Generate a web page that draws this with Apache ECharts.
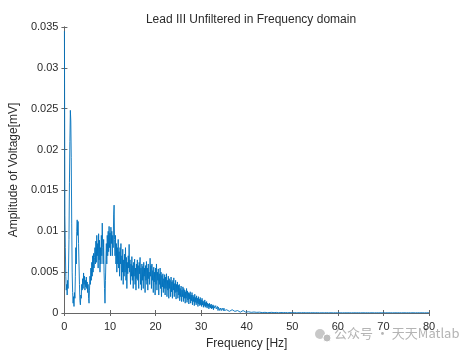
<!DOCTYPE html>
<html>
<head>
<meta charset="utf-8">
<script src="https://cdn.jsdelivr.net/npm/echarts@6/dist/echarts.min.js"></script>
<style>html,body{margin:0;padding:0;background:#fff;}#c{width:474px;height:355px;}</style>
</head>
<body>
<div id="c"></div>
<script>
// Amplitude (mV), 0 .. 35.9 Hz every 0.1 Hz (one line = 1 Hz)
var lowStart = 0, lowStep = 0.1;
var ampLow = [
0.0345,0.0119,0.0080,0.0045,0.0028,0.0035,0.0022,0.0040,0.0030,0.0055,
0.0090,0.0160,0.0210,0.0248,0.0235,0.0190,0.0110,0.0050,0.0025,0.0012,
0.0020,0.0008,0.0025,0.0018,0.0045,0.0080,0.0060,0.0100,0.0114,0.0095,
0.0112,0.0085,0.0060,0.0035,0.0015,0.0010,0.0022,0.0018,0.0035,0.0028,
0.0042,0.0030,0.0049,0.0035,0.0045,0.0028,0.0040,0.0032,0.0044,0.0030,
0.0038,0.0025,0.0035,0.0018,0.0012,0.0028,0.0045,0.0035,0.0055,0.0040,
0.0062,0.0045,0.0070,0.0050,0.0073,0.0055,0.0068,0.0080,0.0060,0.0088,
0.0062,0.0095,0.0070,0.0085,0.0055,0.0097,0.0065,0.0089,0.0050,0.0080,
0.0060,0.0095,0.0070,0.0110,0.0080,0.0060,0.0090,0.0050,0.0030,0.0012,
0.0040,0.0065,0.0085,0.0060,0.0095,0.0070,0.0100,0.0075,0.0106,0.0080,
0.0098,0.0070,0.0105,0.0085,0.0100,0.0070,0.0095,0.0080,0.0120,0.0132,
0.0090,0.0070,0.0095,0.0060,0.0085,0.0050,0.0080,0.0060,0.0090,0.0055,
0.0075,0.0045,0.0080,0.0060,0.0085,0.0040,0.0070,0.0050,0.0078,0.0035,
0.0065,0.0045,0.0072,0.0050,0.0080,0.0040,0.0068,0.0030,0.0062,0.0048,
0.0070,0.0055,0.0084,0.0050,0.0065,0.0035,0.0060,0.0045,0.0069,0.0040,
0.0058,0.0030,0.0062,0.0045,0.0066,0.0035,0.0055,0.0028,0.0060,0.0042,
0.0065,0.0040,0.0058,0.0030,0.0062,0.0048,0.0068,0.0035,0.0055,0.0028,
0.0060,0.0040,0.0057,0.0030,0.0062,0.0045,0.0055,0.0025,0.0058,0.0040,
0.0063,0.0035,0.0055,0.0028,0.0060,0.0042,0.0050,0.0035,0.0067,0.0045,
0.0058,0.0030,0.0060,0.0040,0.0052,0.0025,0.0056,0.0038,0.0050,0.0022,
0.0055,0.0035,0.0060,0.0028,0.0050,0.0040,0.0054,0.0022,0.0048,0.0035,
0.0055,0.0030,0.0050,0.0020,0.0046,0.0032,0.0048,0.0025,0.0042,0.0030,
0.0047,0.0022,0.0044,0.0030,0.0048,0.0020,0.0040,0.0028,0.0045,0.0018,
0.0042,0.0030,0.0040,0.0020,0.0044,0.0026,0.0038,0.0018,0.0040,0.0028,
0.0043,0.0020,0.0036,0.0025,0.0040,0.0017,0.0035,0.0026,0.0038,0.0018,
0.0034,0.0022,0.0035,0.0015,0.0030,0.0020,0.0033,0.0014,0.0028,0.0020,
0.0032,0.0014,0.0030,0.0018,0.0028,0.0012,0.0026,0.0018,0.0030,0.0013,
0.0027,0.0016,0.0025,0.0011,0.0024,0.0017,0.0026,0.0012,0.0022,0.0015,
0.0025,0.0010,0.0022,0.0014,0.0020,0.0009,0.0023,0.0013,0.0019,0.0010,
0.0021,0.0012,0.0018,0.0008,0.0020,0.0011,0.0017,0.0009,0.0019,0.0010,
0.0016,0.0008,0.0018,0.0010,0.0015,0.0007,0.0014,0.0009,0.0016,0.0007,
0.0013,0.0008,0.0014,0.0006,0.0012,0.0008,0.0011,0.0005,0.0012,0.0007,
0.0010,0.0006,0.0011,0.0005,0.0009,0.0006,0.0010,0.0004,0.0009,0.0006,
0.0008,0.0004,0.0009,0.0005,0.0007,0.0004,0.0008,0.0003,0.0007,0.0005,
0.0007,0.0003,0.0006,0.0004,0.0007,0.0003,0.0006,0.0004,0.0005,0.0003,
0.0006,0.0003,0.0005,0.0002,0.0005,0.0003,0.0004,0.0002,0.0005,0.0003
];
// 36 .. 44.8 Hz every 0.2 Hz
var midStart = 36, midStep = 0.2;
var ampMid = [
0.0004,0.0002,0.0004,0.0003,0.0004,0.0002,0.0003,0.0002,0.0003,0.0001,
0.0003,0.0002,0.0003,0.0001,0.0002,0.0001,0.0003,0.0001,0.0002,0.0001,
0.0002,0.0001,0.00015,0.0001,0.00018,0.00008,0.00015,0.0001,0.00012,0.00006,
0.00012,0.00008,0.0001,0.00005,0.0001,0.00006,0.00009,0.00005,0.00008,0.00004,
0.00008,0.00005,0.00007,0.00004,0.00006
];
// 45 .. 80 Hz every 0.5 Hz
var tailStart = 45, tailStep = 0.5;
var ampHigh = [
0.00005,0.00008,0.00004,0.00007,0.00003,0.00006,0.00004,0.00006,0.00003,0.00005,
0.00003,0.00005,0.00002,0.00004,0.00003,0.00005,0.00002,0.00004,0.00003,0.00004,
0.00002,0.00004,0.00002,0.00003,0.00002,0.00004,0.00002,0.00003,0.00002,0.00003,
0.00002,0.00003,0.00002,0.00003,0.00002,0.00003,0.00002,0.00003,0.00002,0.00003,
0.00002,0.00003,0.00002,0.00003,0.00002,0.00003,0.00002,0.00003,0.00002,0.00003,
0.00002,0.00003,0.00002,0.00003,0.00002,0.00003,0.00002,0.00003,0.00002,0.00003,
0.00002,0.00003,0.00002,0.00003,0.00002,0.00003,0.00002,0.00003,0.00002,0.00003,
0.00002
];
var xTickLabels = ['0','10','20','30','40','50','60','70','80'];
var yTickLabels = ['0','0.005','0.01','0.015','0.02','0.025','0.03','0.035'];

var points = [];
function addSegment(start, step, arr) {
  for (var i = 0; i < arr.length; i++) {
    var f = +(start + i * step).toFixed(3);
    if (f > 80) break;
    points.push([f, arr[i]]);
  }
}
addSegment(lowStart, lowStep, ampLow);
addSegment(midStart, midStep, ampMid);
addSegment(tailStart, tailStep, ampHigh);

var font = 'Liberation Sans, Arial, Helvetica, sans-serif';
var axisColor = '#666666';
var textColor = '#2b2b2b';

var chart = echarts.init(document.getElementById('c'), null, {renderer: 'canvas'});
chart.setOption({
  animation: false,
  backgroundColor: '#fff',
  title: {
    text: 'Lead III Unfiltered in Frequency domain',
    left: 246, top: 9, textAlign: 'center',
    textStyle: {fontFamily: font, fontSize: 12, fontWeight: 'normal', color: textColor}
  },
  grid: {left: 62, right: 45, top: 27, bottom: 40, containLabel: false},
  xAxis: [{
    type: 'value', position: 'bottom', min: 0, max: 80, interval: 10,
    name: 'Frequency [Hz]', nameLocation: 'middle', nameGap: 25,
    nameTextStyle: {fontFamily: font, fontSize: 12, color: textColor},
    axisLine: {lineStyle: {color: axisColor, width: 1}},
    axisTick: {inside: true, length: 3, lineStyle: {color: axisColor}},
    axisLabel: {margin: 8, fontFamily: font, fontSize: 11, color: textColor,
      formatter: function (v) { return xTickLabels[Math.round(v / 10)]; }},
    splitLine: {show: false}
  }, {
    type: 'value', position: 'top', min: 0, max: 80, interval: 10,
    axisLine: {lineStyle: {color: axisColor, width: 1}},
    axisTick: {inside: true, length: 3, lineStyle: {color: axisColor}},
    axisLabel: {show: false}, splitLine: {show: false}
  }],
  yAxis: [{
    type: 'value', position: 'left', min: 0, max: 0.035, interval: 0.005,
    name: 'Amplitude of Voltage[mV]', nameLocation: 'middle', nameGap: 32,
    nameTextStyle: {fontFamily: font, fontSize: 12, color: textColor},
    axisLine: {show: true, lineStyle: {color: axisColor, width: 1}},
    axisTick: {show: true, inside: true, length: 3, lineStyle: {color: axisColor}},
    axisLabel: {margin: 6, fontFamily: font, fontSize: 11, color: textColor,
      formatter: function (v) { return yTickLabels[Math.round(v / 0.005)]; }},
    splitLine: {show: false}
  }, {
    type: 'value', position: 'right', min: 0, max: 0.035, interval: 0.005,
    axisLine: {show: true, lineStyle: {color: axisColor, width: 1}},
    axisTick: {show: true, inside: true, length: 3, lineStyle: {color: axisColor}},
    axisLabel: {show: false}, splitLine: {show: false}
  }],
  series: [{
    type: 'line', data: points, xAxisIndex: 0, yAxisIndex: 0,
    showSymbol: false, symbol: 'none',
    lineStyle: {color: '#0072BD', width: 0.9},
    clip: true
  }],
  graphic: [
    {type: 'circle', shape: {cx: 320, cy: 334, r: 5}, style: {fill: '#c8c8c8'}},
    {type: 'circle', shape: {cx: 327, cy: 338, r: 4}, style: {fill: '#bdbdbd', stroke: '#fff', lineWidth: 1}},
    {type: 'text', left: 334, top: 327,
      style: {text: '公众号 · 天天Matlab', fill: '#b4b4b4',
        font: '13px "Noto Sans CJK SC", sans-serif'}}
  ]
});
</script>
</body>
</html>
